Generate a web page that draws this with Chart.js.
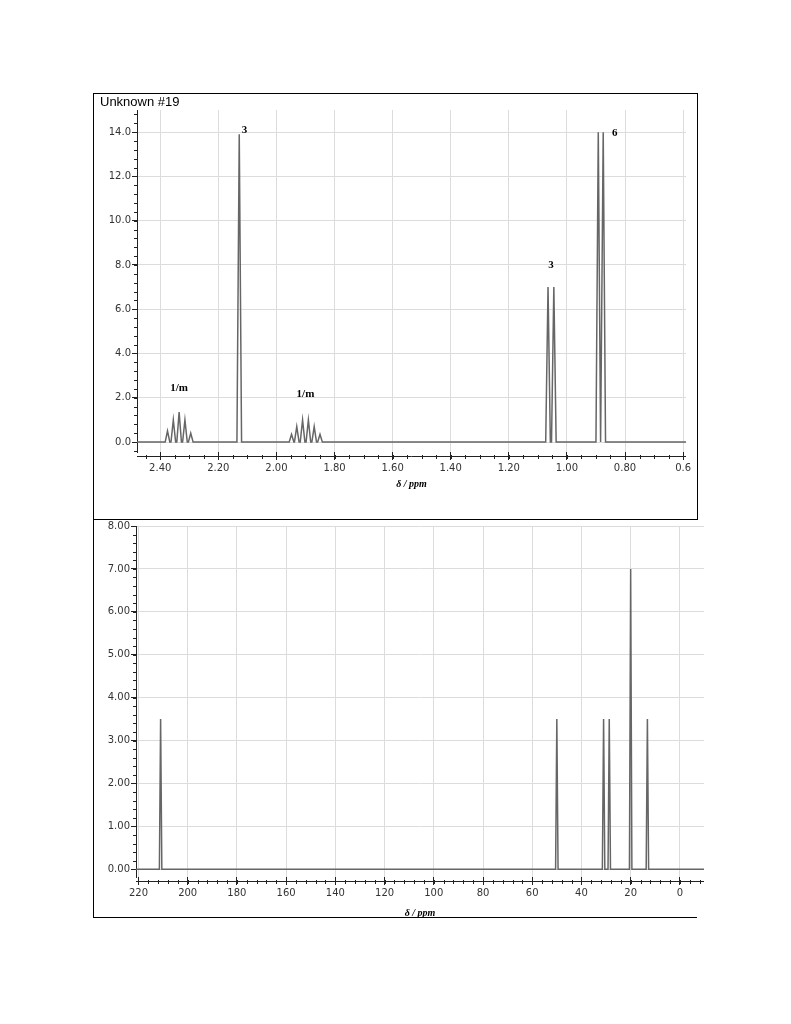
<!DOCTYPE html>
<html><head><meta charset="utf-8">
<script src="https://cdn.jsdelivr.net/npm/chart.js@4"></script>
<style>
body{margin:0;background:#fff;width:791px;height:1024px;position:relative;overflow:hidden}
#b1{position:absolute;left:93px;top:93px;width:603px;height:425px;border:1px solid #000}
#b2{position:absolute;left:93px;top:519px;width:603px;height:398px;border-left:1px solid #000;border-bottom:1px solid #000}
#c1{position:absolute;left:93px;top:93px}
#c2{position:absolute;left:93px;top:519px}
#t{position:absolute;left:100px;top:94px;font:13px "Liberation Sans",Arial,sans-serif;color:#000}
</style></head><body>
<div id="b1"></div><div id="b2"></div>
<canvas id="c1" width="604" height="426"></canvas>
<canvas id="c2" width="612" height="400"></canvas>
<div id="t">Unknown #19</div>
<script>
// 1H spectrum peaks (ppm, intensity)
const hShift=[2.375,2.355,2.335,2.315,2.295,2.128,1.948,1.93,1.91,1.89,1.87,1.85,1.065,1.045,0.892,0.875];
const hHeight=[0.5,1.0,1.35,1.0,0.4,13.9,0.35,0.7,1.0,1.0,0.7,0.35,7.0,7.0,14.0,14.0];
const hLabels=[{x:2.335,y:2.2,t:'1/m'},{x:1.90,y:1.9,t:'1/m'},{x:2.11,y:13.85,t:'3'},{x:1.055,y:7.75,t:'3'},{x:0.835,y:13.7,t:'6'}];
const hTicks=[2.40,2.20,2.00,1.80,1.60,1.40,1.20,1.00,0.80,0.60];
const hTickText=['2.40','2.20','2.00','1.80','1.60','1.40','1.20','1.00','0.80','0.6'];
const hYTicks=[0,2,4,6,8,10,12,14];
// 13C spectrum peaks
const cShift=[211,50,31,28.7,20,13.2];
const cHeight=[3.5,3.5,3.5,3.5,7.0,3.5];
const cTicks=[220,200,180,160,140,120,100,80,60,40,20,0];
const cYTicks=[0,1,2,3,4,5,6,7,8];

function buildLine(xs,hs,w,lo,hi){
  const pts=[{x:hi,y:0}];
  xs.map((x,i)=>({x,h:hs[i]})).sort((a,b)=>b.x-a.x).forEach(p=>{
    pts.push({x:p.x+w,y:0},{x:p.x,y:p.h},{x:p.x-w,y:0});
  });
  pts.push({x:lo,y:0});
  return pts;
}
const minor={id:'minor',afterDraw(c,a,o){
  const ctx=c.ctx,x=c.scales.x,y=c.scales.y;ctx.save();ctx.strokeStyle='#222';ctx.lineWidth=1;
  ctx.beginPath();
  for(let v=o.xs0;v>=x.min-1e-9;v-=o.xs){if(v>x.max)continue;const p=Math.round(x.getPixelForValue(v))+0.5;ctx.moveTo(p,x.top+3);ctx.lineTo(p,x.top+7);}
  for(let v=o.ys0;v<=y.max+1e-9;v+=o.ys){if(v<y.min)continue;const p=Math.round(y.getPixelForValue(v))+0.5;ctx.moveTo(y.right-3,p);ctx.lineTo(y.right,p);}
  ctx.moveTo(x.left,x.top+4.5);ctx.lineTo(x.right,x.top+4.5);
  ctx.stroke();
  if(o.labels){ctx.fillStyle='#000';ctx.font='bold 11px "Liberation Serif",serif';ctx.textAlign='center';ctx.textBaseline='bottom';
    o.labels.forEach(l=>ctx.fillText(l.t,x.getPixelForValue(l.x),y.getPixelForValue(l.y)));}
  ctx.restore();}};
function make(id,data,xo,yo,pad,axH,yW,ttlPad,mo){
  return new Chart(document.getElementById(id),{type:'line',
    data:{datasets:[{data,borderColor:'#666',borderWidth:1.5,pointRadius:0,tension:0,fill:false}]},
    options:{responsive:false,animation:false,parsing:false,layout:{padding:pad},
      plugins:{legend:{display:false},tooltip:{enabled:false},minor:mo},
      scales:{
        x:Object.assign({type:'linear',reverse:true,border:{display:false},
          grid:{color:'#dcdcdc',tickLength:8,tickColor:'#222',drawTicks:true},
          title:{display:true,text:'δ / ppm',font:{size:10,weight:'bold',style:'italic',family:'"Liberation Serif",serif'},color:'#000',padding:{top:ttlPad,bottom:0}},
          afterFit(s){s.height=axH;}},xo),
        y:Object.assign({type:'linear',border:{color:'#222'},
          grid:{color:'#dcdcdc',tickLength:5,tickColor:'#222'},
          afterFit(s){s.width=yW;}},yo)}},
    plugins:[minor]});
}
make('c1',buildLine(hShift,hHeight,0.008,0.59,2.48),
 {min:0.59,max:2.48,afterBuildTicks(s){s.ticks=hTicks.map(v=>({value:v}));},ticks:{color:'#333',font:{size:10,family:'"DejaVu Sans",sans-serif'},maxRotation:0,autoSkip:false,padding:2,callback:(v,i)=>hTickText[i]}},
 {min:-0.45,max:15,afterBuildTicks(s){s.ticks=hYTicks.map(v=>({value:v}));},ticks:{color:'#333',font:{size:10,family:'"DejaVu Sans",sans-serif'},padding:1,callback:v=>v.toFixed(1)}},
 {top:17,right:11,left:0,bottom:29},38,44,6,{xs:0.05,xs0:2.45,ys:0.4,ys0:-0.4,labels:hLabels});
make('c2',buildLine(cShift,cHeight,0.5,-9.8,221),
 {min:-9.8,max:221,afterBuildTicks(s){s.ticks=cTicks.map(v=>({value:v}));},ticks:{color:'#333',font:{size:10,family:'"DejaVu Sans",sans-serif'},maxRotation:0,autoSkip:false,padding:2}},
 {min:-0.18,max:8,afterBuildTicks(s){s.ticks=cYTicks.map(v=>({value:v}));},ticks:{color:'#333',font:{size:10,family:'"DejaVu Sans",sans-serif'},padding:1,callback:v=>v.toFixed(2)}},
 {top:1,right:1,left:0,bottom:0},42,43,4,{xs:4,xs0:220,ys:0.2,ys0:0});
</script></body></html>
